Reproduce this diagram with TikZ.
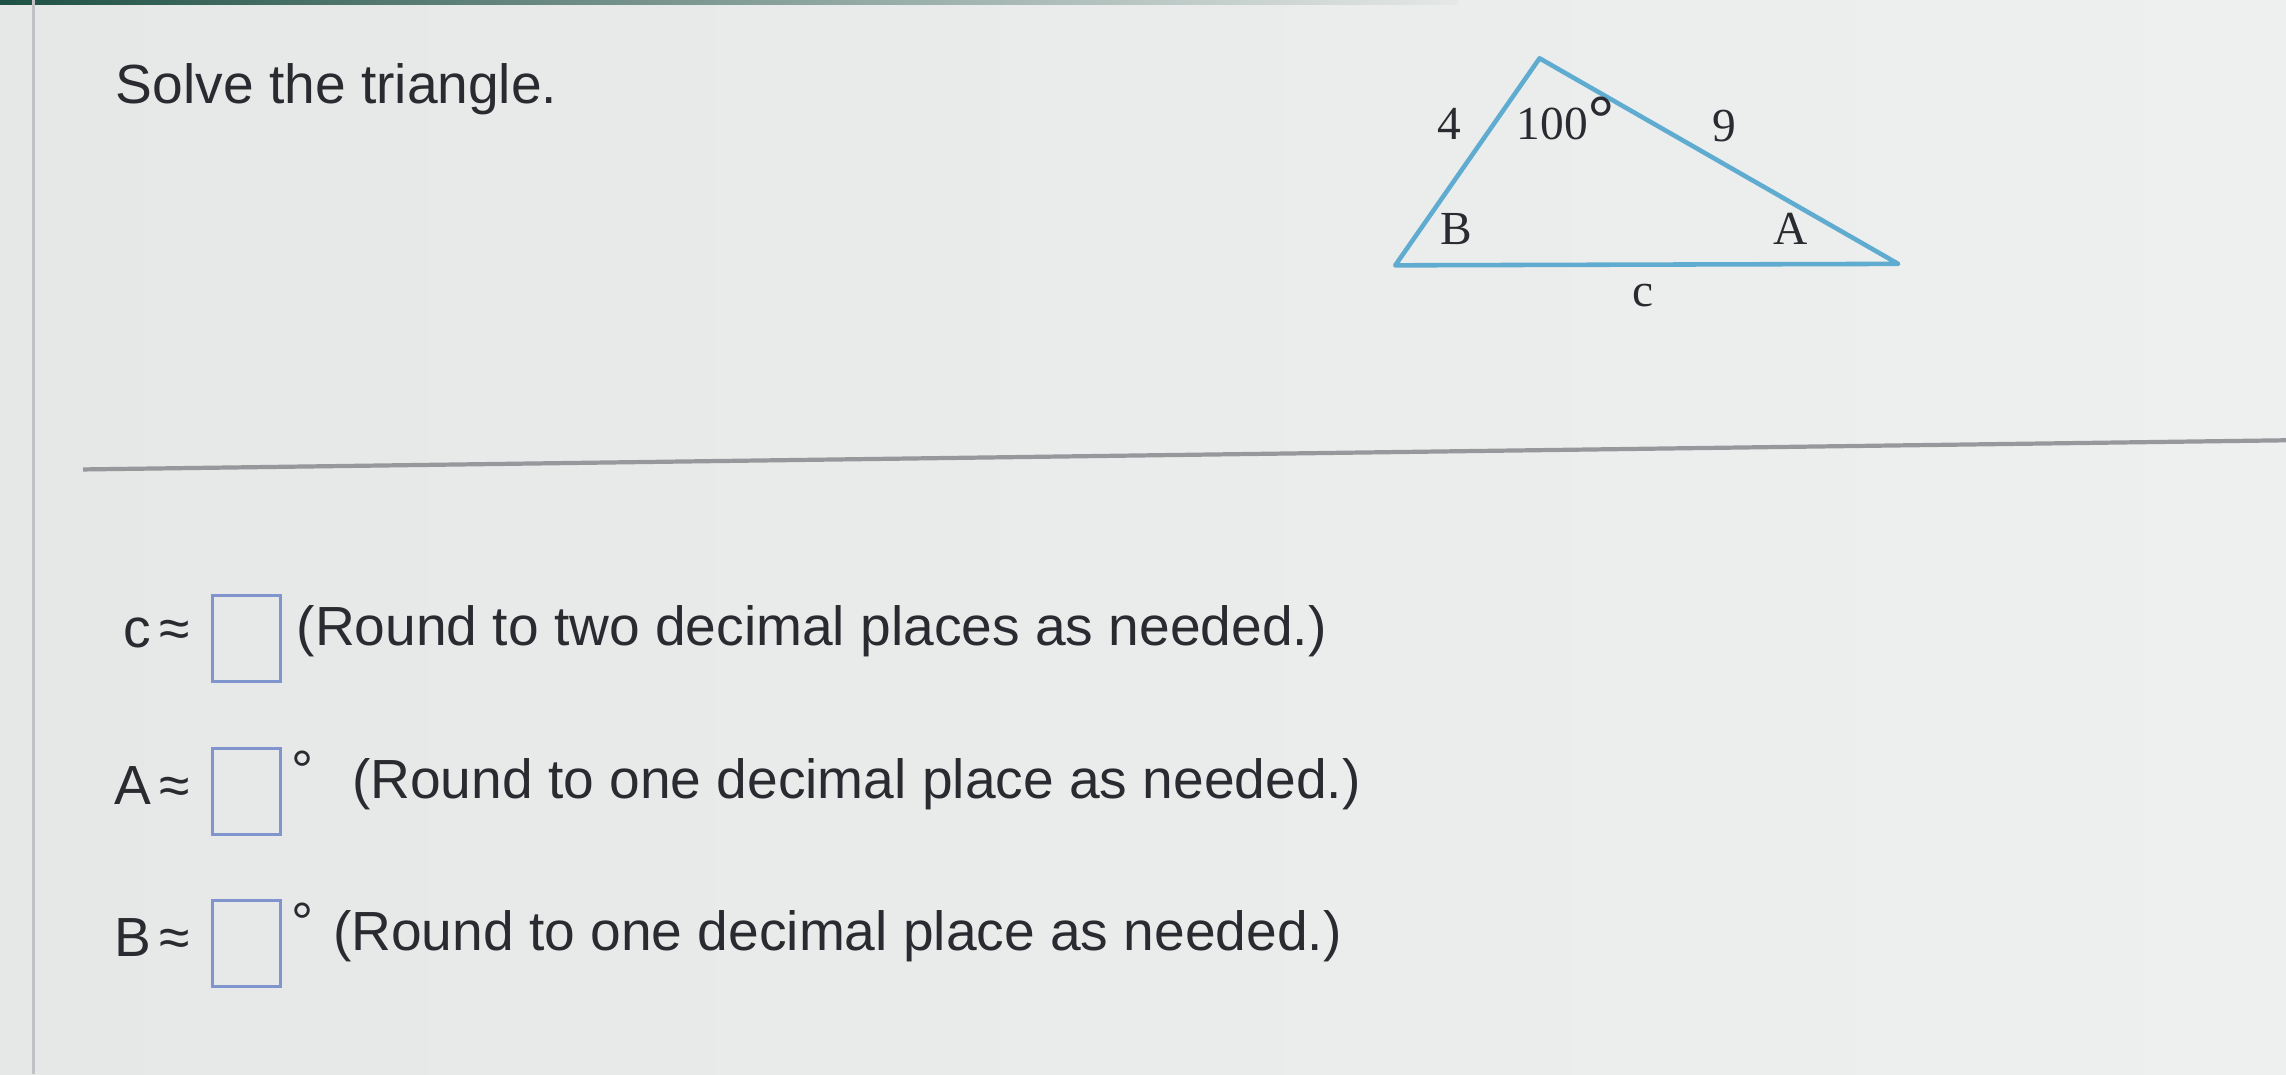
\documentclass[tikz,border=0pt]{standalone}
\usepackage{fontspec}
\setmainfont{Liberation Sans}
\newfontfamily\figfont{Liberation Serif}
\usetikzlibrary{positioning}
\definecolor{screen}{RGB}{229,232,231}
\definecolor{screenlight}{RGB}{238,240,239}
\definecolor{barteal}{RGB}{30,80,68}
\definecolor{edgeblue}{RGB}{95,172,208}
\definecolor{boxblue}{RGB}{128,148,205}
\definecolor{inkgray}{RGB}{42,42,48}
\definecolor{rulegray}{RGB}{150,152,156}

\begin{document}
\begin{tikzpicture}[x=0.01458cm,y=-0.01458cm,
  prompt/.style={font=\fontsize{15.7}{19}\selectfont,text=inkgray,inner sep=0pt},
  lbl/.style={font=\figfont\fontsize{13.5}{16}\selectfont,text=inkgray,inner sep=0pt},
  blank/.style={draw=boxblue,line width=0.9pt,minimum width=19.5pt,minimum height=24.5pt,inner sep=0pt},
  side/.style={draw=edgeblue,line width=1.3pt,line join=round}]
  % screen background
  \useasboundingbox (0,0) rectangle (1568,737);
  \shade[left color=screen,right color=screenlight] (0,0) rectangle (1568,737);
  \shade[left color=barteal,right color=screen] (0,0) rectangle (1000,3);
  \draw[rulegray!60,line width=0.6pt] (23,0) -- (23,737);

  \node[prompt,anchor=west] (title) at (79,61) {Solve the triangle.};

  % triangle
  \coordinate (C) at (1056,40);
  \coordinate (Bv) at (957,182);
  \coordinate (Av) at (1302,181);
  \draw[side] (Bv) -- (C) -- (Av) -- cycle;
  \node[lbl,anchor=base] (sidea) at (994,96) {4};
  \node[lbl,anchor=base west] (angC) at (1040,96) {100{\bfseries\scalebox{1.35}{°}}};
  \node[lbl,anchor=base] (sideb) at (1183,97) {9};
  \node[lbl] (angB) at (999,157) {B};
  \node[lbl] (angA) at (1228,157) {A};
  \node[lbl] (sidec) at (1127,203) {c};

  \draw[rulegray,line width=1.2pt] (57,322) -- (1568,302);

  % answer rows
  \foreach [count=\i] \lhs/\y/\unit/\nx/\note in {
      c/438/{}/203/two decimal places,
      A/543/{°}/241/one decimal place,
      B/647/{°}/228/one decimal place} {
    \node[prompt,anchor=east] (lhs\i) at (131,\y-4) {\lhs\,≈};
    \node[blank] (box\i) at (169,\y) {};
    \node[prompt,anchor=north west] (deg\i) at ([xshift=2.5pt,yshift=-1pt]box\i.north east) {\unit};
    \node[prompt,anchor=west] (note\i) at (\nx,\y-5) {(Round to \note\ as needed.)};
  }
\end{tikzpicture}
\end{document}
